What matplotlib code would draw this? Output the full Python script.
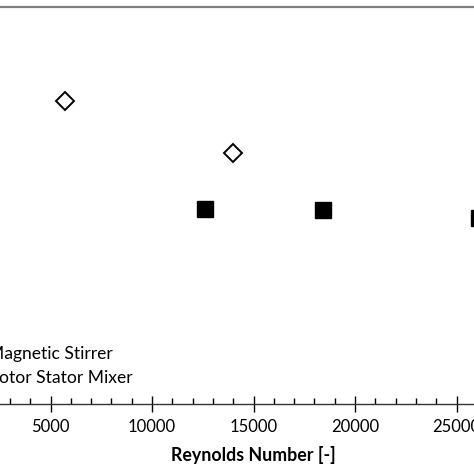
import matplotlib
matplotlib.use("Agg")
import matplotlib.pyplot as plt
from matplotlib.ticker import MultipleLocator

plt.rcParams['font.family'] = ['Lato', 'DejaVu Sans']

# data
re_magnetic = [5700, 14000]
y_magnetic = [0.763, 0.632]
re_rotor = [12600, 18400, 26100]
y_rotor = [0.491, 0.489, 0.468]
labels = ['Magnetic Stirrer', 'Rotor Stator Mixer']

fig = plt.figure(figsize=(4.74, 4.74), dpi=100)
# axes larger than the figure: the picture is a crop of a wider chart
ax = fig.add_axes([-51 / 474, 70 / 474, 609 / 474, 397 / 474])

ax.plot(re_magnetic, y_magnetic, linestyle='none', marker='D', markersize=9,
        markerfacecolor='white', markeredgecolor='black', markeredgewidth=1.4,
        label=labels[0])
ax.plot(re_rotor, y_rotor, linestyle='none', marker='s', markersize=11,
        color='black', label=labels[1])

ax.set_xlim(0, 30000)
ax.set_ylim(0, 1)
ax.xaxis.set_major_locator(MultipleLocator(5000))
ax.xaxis.set_minor_locator(MultipleLocator(1000))
ax.tick_params(axis='x', which='major', direction='inout', length=11, width=1,
               labelsize=12, pad=5)
ax.tick_params(axis='x', which='minor', direction='in', length=4, width=1)
ax.set_yticks([])

ax.spines['top'].set_color('#7f7f7f')
ax.spines['top'].set_linewidth(1.6)
ax.spines['bottom'].set_color('#333333')
ax.spines['bottom'].set_linewidth(1.0)
ax.spines['right'].set_visible(False)

ax.set_xlabel('Reynolds Number [-]', fontsize=12.8, fontweight='bold', labelpad=8)

leg = ax.legend(loc='lower left', bbox_to_anchor=(-12 / 609, 0.024),
                frameon=False, fontsize=12.6, handletextpad=0.4,
                labelspacing=0.45, borderpad=0)

fig.savefig('out.png', dpi=100)
